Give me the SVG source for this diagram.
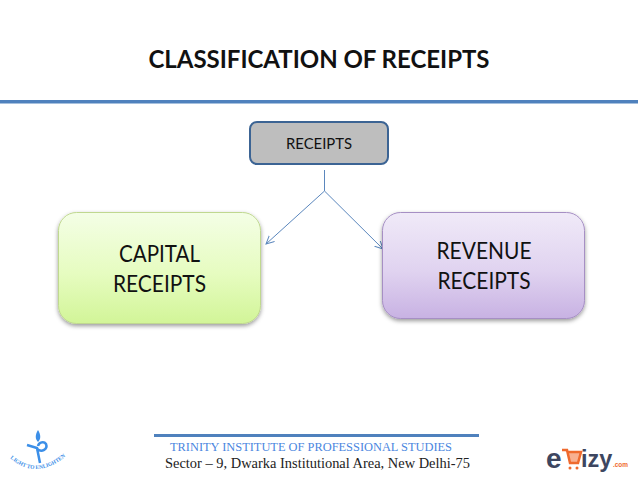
<svg xmlns="http://www.w3.org/2000/svg" width="638" height="478" viewBox="0 0 638 478">
<style>
.s{font-family:"Lato","Liberation Sans",sans-serif;fill:#111}
.big{font-size:23px;text-anchor:middle}
.f{font-family:"Liberation Serif",serif}
.c{fill:none;stroke:#5b87bd;stroke-width:1}
</style>
<defs>
<linearGradient id="g" x1="0" y1="0" x2="0" y2="1"><stop offset="0" stop-color="#f4fee6"/><stop offset="0.55" stop-color="#e6fcc0"/><stop offset="1" stop-color="#d2f598"/></linearGradient>
<linearGradient id="p" x1="0" y1="0" x2="0" y2="1"><stop offset="0" stop-color="#f0eaf8"/><stop offset="0.55" stop-color="#e0d3f0"/><stop offset="1" stop-color="#c8b2e3"/></linearGradient>
<filter id="sh" x="-10%" y="-10%" width="120%" height="125%"><feDropShadow dx="0" dy="2" stdDeviation="2" flood-color="#000" flood-opacity="0.4"/></filter>
<marker id="a" markerWidth="10" markerHeight="10" refX="8" refY="4" orient="auto" markerUnits="userSpaceOnUse"><path d="M0 0L8 4L0 8" fill="none" stroke="#5b87bd"/></marker>
<path id="arc" d="M10 458Q36 481 66 456"/>
</defs>
<rect width="638" height="478" fill="#fff"/>
<text id="title" class="s" x="319" y="68" font-size="24px" font-weight="700" text-anchor="middle" textLength="341">CLASSIFICATION OF RECEIPTS</text>
<rect x="0" y="100" width="638" height="3.500" fill="#4f81bd"/>
<g id="connectors">
<path class="c" d="M324.500 170V191"/>
<path class="c" d="M324.500 191L266 244" marker-end="url(#a)"/>
<path class="c" d="M324.500 191L383 249" marker-end="url(#a)"/>
</g>
<g id="node-receipts">
<rect x="250" y="122" width="138" height="42" rx="7" fill="#bebebe" stroke="#3c6494" stroke-width="2"/>
<text class="s" x="319" y="149" font-size="15px" text-anchor="middle" textLength="66" lengthAdjust="spacingAndGlyphs">RECEIPTS</text>
</g>
<g id="node-capital">
<rect x="58.500" y="212.500" width="202" height="111" rx="18" fill="url(#g)" stroke="#c0d890" filter="url(#sh)"/>
<text class="s big" x="159.500" y="262" textLength="81" lengthAdjust="spacingAndGlyphs">CAPITAL</text>
<text class="s big" x="159.500" y="292" textLength="93" lengthAdjust="spacingAndGlyphs">RECEIPTS</text>
</g>
<g id="node-revenue">
<rect x="382.500" y="212.500" width="202" height="106" rx="18" fill="url(#p)" stroke="#a68fc4" filter="url(#sh)"/>
<text class="s big" x="484" y="259" textLength="95" lengthAdjust="spacingAndGlyphs">REVENUE</text>
<text class="s big" x="484" y="289" textLength="93" lengthAdjust="spacingAndGlyphs">RECEIPTS</text>
</g>
<g id="footer">
<rect x="154" y="434" width="325" height="3" fill="#4f81bd"/>
<text class="f" x="170" y="451" font-size="13px" fill="#4a86e0" textLength="282" lengthAdjust="spacingAndGlyphs">TRINITY INSTITUTE OF PROFESSIONAL STUDIES</text>
<text class="f" x="165" y="468" font-size="14px" fill="#222" textLength="305" lengthAdjust="spacingAndGlyphs">Sector – 9, Dwarka Institutional Area, New Delhi-75</text>
</g>
<g id="logo-left" fill="#3c8fe8">
<path d="M38 430C41 435 41 439 38 442C35 439 35 435 38 430Z"/>
<path d="M27 445L37 448L40 463" fill="none" stroke="#3c8fe8" stroke-width="2.500"/>
<path d="M37 449C42 453 48 449 46 444C44 441 39 442 38 446" fill="none" stroke="#3c8fe8" stroke-width="2.500"/>
<text font-family="Liberation Serif,serif" font-size="5.500px" font-weight="700"><textPath href="#arc">LIGHT TO ENLIGHTEN</textPath></text>
</g>
<g id="logo-right">
<text x="546" y="468" font-family="Liberation Sans,sans-serif" font-size="28px" font-weight="700" fill="#3d4660">e</text>
<path d="M562 450h5l3 13h8l3-11h-13" fill="#f8b090" stroke="#ef6a2e" stroke-width="2.500"/>
<circle cx="570" cy="468" r="1.500" fill="#ef6a2e"/><circle cx="577" cy="468" r="1.500" fill="#ef6a2e"/>
<text x="581" y="467" font-family="Liberation Sans,sans-serif" font-size="23.500px" font-weight="700" fill="#3d4660">izy</text>
<text x="613" y="467" font-family="Liberation Sans,sans-serif" font-size="7.500px" font-weight="700" fill="#ef6a2e" textLength="15" lengthAdjust="spacingAndGlyphs">.com</text>
</g>
</svg>
